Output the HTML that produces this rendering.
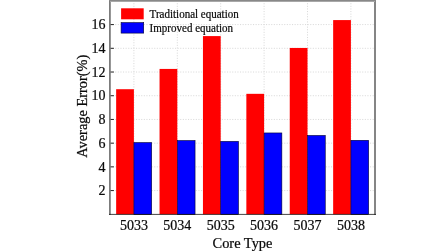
<!DOCTYPE html><html><head><meta charset="utf-8"><title>Average Error by Core Type</title><style>html,body{margin:0;padding:0;background:#fff;overflow:hidden}svg{display:block}text{font-family:"Liberation Serif","Times New Roman",serif;fill:#0a0a0a;stroke:#0a0a0a;stroke-width:0.22px}</style></head><body>
<svg width="448" height="252" viewBox="0 0 448 252">
<rect width="448" height="252" fill="#fff"/>
<line x1="110.0" x2="375.0" y1="190.59" y2="190.59" stroke="#dadada" stroke-width="1" stroke-dasharray="1.1 1.5"/>
<line x1="110.0" x2="375.0" y1="166.87" y2="166.87" stroke="#dadada" stroke-width="1" stroke-dasharray="1.1 1.5"/>
<line x1="110.0" x2="375.0" y1="143.16" y2="143.16" stroke="#dadada" stroke-width="1" stroke-dasharray="1.1 1.5"/>
<line x1="110.0" x2="375.0" y1="119.44" y2="119.44" stroke="#dadada" stroke-width="1" stroke-dasharray="1.1 1.5"/>
<line x1="110.0" x2="375.0" y1="95.73" y2="95.73" stroke="#dadada" stroke-width="1" stroke-dasharray="1.1 1.5"/>
<line x1="110.0" x2="375.0" y1="72.02" y2="72.02" stroke="#dadada" stroke-width="1" stroke-dasharray="1.1 1.5"/>
<line x1="110.0" x2="375.0" y1="48.30" y2="48.30" stroke="#dadada" stroke-width="1" stroke-dasharray="1.1 1.5"/>
<line x1="110.0" x2="375.0" y1="24.59" y2="24.59" stroke="#dadada" stroke-width="1" stroke-dasharray="1.1 1.5"/>
<line x1="133.90" x2="133.90" y1="0.6" y2="214.3" stroke="#dadada" stroke-width="1" stroke-dasharray="1.1 1.5"/>
<line x1="177.30" x2="177.30" y1="0.6" y2="214.3" stroke="#dadada" stroke-width="1" stroke-dasharray="1.1 1.5"/>
<line x1="220.70" x2="220.70" y1="0.6" y2="214.3" stroke="#dadada" stroke-width="1" stroke-dasharray="1.1 1.5"/>
<line x1="264.10" x2="264.10" y1="0.6" y2="214.3" stroke="#dadada" stroke-width="1" stroke-dasharray="1.1 1.5"/>
<line x1="307.50" x2="307.50" y1="0.6" y2="214.3" stroke="#dadada" stroke-width="1" stroke-dasharray="1.1 1.5"/>
<line x1="350.90" x2="350.90" y1="0.6" y2="214.3" stroke="#dadada" stroke-width="1" stroke-dasharray="1.1 1.5"/>
<rect x="116.15" y="89.21" width="17.75" height="125.09" fill="#ff0000"/>
<rect x="133.90" y="142.57" width="17.75" height="71.73" fill="#0000ff" stroke="#000030" stroke-width="0.6"/>
<rect x="159.55" y="68.93" width="17.75" height="145.37" fill="#ff0000"/>
<rect x="177.30" y="140.55" width="17.75" height="73.75" fill="#0000ff" stroke="#000030" stroke-width="0.6"/>
<rect x="202.95" y="36.09" width="17.75" height="178.21" fill="#ff0000"/>
<rect x="220.70" y="141.38" width="17.75" height="72.92" fill="#0000ff" stroke="#000030" stroke-width="0.6"/>
<rect x="246.35" y="93.83" width="17.75" height="120.47" fill="#ff0000"/>
<rect x="264.10" y="132.96" width="17.75" height="81.34" fill="#0000ff" stroke="#000030" stroke-width="0.6"/>
<rect x="289.75" y="47.95" width="17.75" height="166.35" fill="#ff0000"/>
<rect x="307.50" y="135.45" width="17.75" height="78.85" fill="#0000ff" stroke="#000030" stroke-width="0.6"/>
<rect x="333.15" y="20.08" width="17.75" height="194.22" fill="#ff0000"/>
<rect x="350.90" y="140.31" width="17.75" height="73.99" fill="#0000ff" stroke="#000030" stroke-width="0.6"/>
<rect x="109" y="0" width="1" height="214.8" fill="#7c7c7c"/>
<rect x="110" y="0" width="1" height="214.8" fill="#979797"/>
<rect x="374" y="0" width="2" height="214.8" fill="#858585"/>
<rect x="109" y="0" width="267" height="1" fill="#888"/>
<rect x="110" y="1" width="265" height="1" fill="#a8a8a8"/>
<rect x="109" y="213.9" width="267" height="1" fill="#000" fill-opacity="0.72"/>
<line x1="110.6" x2="113.9" y1="190.59" y2="190.59" stroke="#222" stroke-width="1"/>
<text x="105.6" y="195.29" font-size="14" text-anchor="end">2</text>
<line x1="110.6" x2="113.9" y1="166.87" y2="166.87" stroke="#222" stroke-width="1"/>
<text x="105.6" y="171.57" font-size="14" text-anchor="end">4</text>
<line x1="110.6" x2="113.9" y1="143.16" y2="143.16" stroke="#222" stroke-width="1"/>
<text x="105.6" y="147.86" font-size="14" text-anchor="end">6</text>
<line x1="110.6" x2="113.9" y1="119.44" y2="119.44" stroke="#222" stroke-width="1"/>
<text x="105.6" y="124.14" font-size="14" text-anchor="end">8</text>
<line x1="110.6" x2="113.9" y1="95.73" y2="95.73" stroke="#222" stroke-width="1"/>
<text x="105.6" y="100.43" font-size="14" text-anchor="end">10</text>
<line x1="110.6" x2="113.9" y1="72.02" y2="72.02" stroke="#222" stroke-width="1"/>
<text x="105.6" y="76.72" font-size="14" text-anchor="end">12</text>
<line x1="110.6" x2="113.9" y1="48.30" y2="48.30" stroke="#222" stroke-width="1"/>
<text x="105.6" y="53.00" font-size="14" text-anchor="end">14</text>
<line x1="110.6" x2="113.9" y1="24.59" y2="24.59" stroke="#222" stroke-width="1"/>
<text x="105.6" y="29.29" font-size="14" text-anchor="end">16</text>
<text x="133.90" y="230" font-size="14" text-anchor="middle">5033</text>
<text x="177.30" y="230" font-size="14" text-anchor="middle">5034</text>
<text x="220.70" y="230" font-size="14" text-anchor="middle">5035</text>
<text x="264.10" y="230" font-size="14" text-anchor="middle">5036</text>
<text x="307.50" y="230" font-size="14" text-anchor="middle">5037</text>
<text x="350.90" y="230" font-size="14" text-anchor="middle">5038</text>
<text x="242.5" y="247.6" font-size="14.4" text-anchor="middle">Core Type</text>
<text transform="translate(86.7 157.8) rotate(-90)" font-size="14.4">Average Error(%)</text>
<rect x="121.1" y="8.3" width="22.6" height="11" fill="#ff0000"/>
<rect x="121.1" y="22.6" width="22.6" height="10.5" fill="#0000ff" stroke="#000030" stroke-width="0.6"/>
<text transform="translate(149.6 17.8) scale(0.95 1)" font-size="11.6">Traditional equation</text>
<text transform="translate(149.6 31.5) scale(0.95 1)" font-size="11.6">Improved equation</text>
</svg></body></html>
